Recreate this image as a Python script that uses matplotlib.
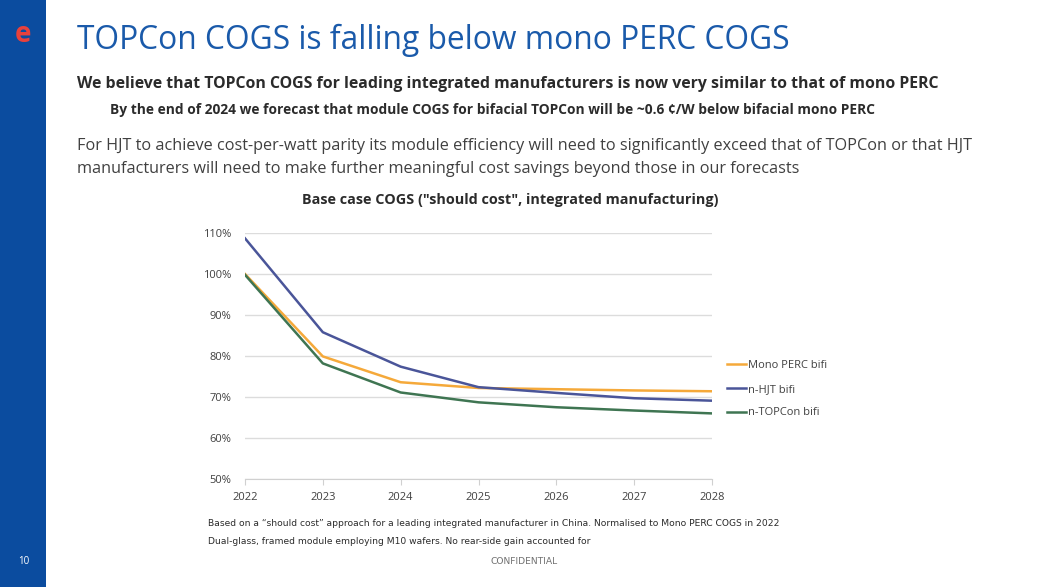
import matplotlib.pyplot as plt
from matplotlib.patches import Rectangle
from matplotlib.ticker import FuncFormatter

plt.rcParams['font.family'] = ['Open Sans', 'DejaVu Sans']

years = [2022, 2023, 2024, 2025, 2026, 2027, 2028]
mono_perc = [100.0, 79.9, 73.6, 72.2, 71.9, 71.6, 71.4]
n_hjt = [108.7, 85.8, 77.4, 72.4, 71.0, 69.7, 69.1]
n_topcon = [99.8, 78.2, 71.1, 68.7, 67.5, 66.7, 66.0]
series_names = ['Mono PERC bifi', 'n-HJT bifi', 'n-TOPCon bifi']
colors = ['#F5A93A', '#4A5599', '#3F7552']

W, H = 1048, 587
fig = plt.figure(figsize=(W / 100, H / 100), dpi=100)
fig.patch.set_facecolor('white')

# sidebar
fig.add_artist(Rectangle((0, 0), 46 / W, 1, transform=fig.transFigure,
                         facecolor='#0B4C9F', edgecolor='none'))
fig.text(23 / W, 1 - 35 / H, 'e', color='#E8413C', fontsize=20, fontweight='bold',
         ha='center', va='center')
fig.text(24 / W, 1 - 561 / H, '10', color='white', fontsize=7, ha='center', va='center')

# header texts
fig.text(77 / W, 1 - 40 / H, 'TOPCon COGS is falling below mono PERC COGS',
         color='#1A5AAA', fontsize=22.9, va='center', ha='left')
fig.text(77 / W, 1 - 84 / H,
         'We believe that TOPCon COGS for leading integrated manufacturers is now very similar to that of mono PERC',
         color='#2B2B2B', fontsize=11.4, fontweight='bold', va='center')
fig.text(110 / W, 1 - 110 / H,
         'By the end of 2024 we forecast that module COGS for bifacial TOPCon will be ~0.6 \u00a2/W below bifacial mono PERC',
         color='#2B2B2B', fontsize=9.9, fontweight='bold', va='center')
fig.text(77 / W, 1 - 146 / H,
         'For HJT to achieve cost-per-watt parity its module efficiency will need to significantly exceed that of TOPCon or that HJT',
         color='#404040', fontsize=11.7, va='center')
fig.text(77 / W, 1 - 169 / H,
         'manufacturers will need to make further meaningful cost savings beyond those in our forecasts',
         color='#404040', fontsize=11.7, va='center')
fig.text(510 / W, 1 - 200 / H, 'Base case COGS ("should cost", integrated manufacturing)',
         color='#2B2B2B', fontsize=10.4, fontweight='bold', ha='center', va='center')

# chart
ax = fig.add_axes([245 / W, 1 - 479 / H, (712 - 245) / W, (479 - 233) / H])
for vals, name, c in zip([mono_perc, n_hjt, n_topcon], series_names, colors):
    ax.plot(years, vals, color=c, lw=1.8, label=name)

ax.set_xlim(2022, 2028)
ax.set_ylim(50, 110)
ax.set_yticks(range(50, 111, 10))
ax.yaxis.set_major_formatter(FuncFormatter(lambda v, p: f'{v:.0f}%'))
ax.set_xticks(years)
ax.grid(axis='y', color='#DCDCDC', lw=1)
ax.set_axisbelow(True)
for s in ['top', 'right', 'left']:
    ax.spines[s].set_visible(False)
ax.spines['bottom'].set_color('#D0D0D0')
ax.tick_params(axis='y', length=0, labelsize=8, labelcolor='#404040', pad=10)
ax.tick_params(axis='x', length=4, color='#D0D0D0', labelsize=8, labelcolor='#404040', pad=5)

ax.legend(loc='center left', bbox_to_anchor=(1.01, 0.365), frameon=False, fontsize=8,
          handlelength=1.7, handletextpad=0.2, labelspacing=1.15, labelcolor='#404040')

# footnotes
foot = ['Liberation Sans Narrow', 'DejaVu Sans']
fig.text(208 / W, 1 - 523 / H,
         'Based on a \u201cshould cost\u201d approach for a leading integrated manufacturer in China. Normalised to Mono PERC COGS in 2022',
         color='#2B2B2B', fontsize=6.6, va='center', family=foot)
fig.text(208 / W, 1 - 542 / H,
         'Dual-glass, framed module employing M10 wafers. No rear-side gain accounted for',
         color='#2B2B2B', fontsize=6.6, va='center', family=foot)
fig.text(524 / W, 1 - 562 / H, 'CONFIDENTIAL', color='#707070', fontsize=6.6,
         ha='center', va='center', family=foot)

fig.savefig('out.png', dpi=100)
